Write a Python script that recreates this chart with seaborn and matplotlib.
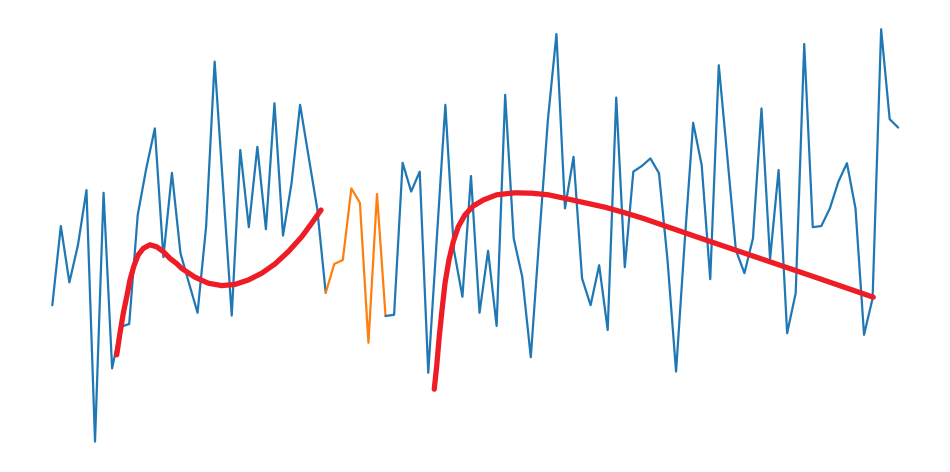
"""Noisy series with a highlighted stretch and two fitted trend curves."""

import matplotlib
import numpy as np
import pandas as pd
import seaborn as sns

matplotlib.use("Agg")
import matplotlib.pyplot as plt  # noqa: E402

sns.set_theme(style="white")

BLUE, ORANGE, RED = "#1f77b4", "#ff7f0e", "#ee1c25"

# raw series, one value per step (100 steps)
values = [
    3.62, 5.60, 4.19, 5.12, 6.50, 0.21, 6.43, 2.04, 3.08, 3.15,
    5.88, 7.04, 8.04, 4.82, 6.93, 4.92, 4.17, 3.43, 5.58, 9.71,
    6.53, 3.36, 7.50, 5.57, 7.58, 5.52, 8.67, 5.36, 6.67, 8.63,
    7.33, 6.04, 3.93, 4.65, 4.75, 6.54, 6.18, 2.68, 6.40, 3.35,
    3.38, 7.18, 6.46, 6.96, 1.93, 5.29, 8.63, 5.00, 3.83, 6.85,
    3.43, 4.98, 3.10, 8.88, 5.29, 4.33, 2.32, 5.33, 8.25, 10.40,
    6.04, 7.33, 4.29, 3.62, 4.62, 3.00, 8.81, 4.57, 6.96, 7.10,
    7.29, 6.92, 4.75, 1.96, 5.17, 8.18, 7.12, 4.27, 9.62, 7.33,
    5.00, 4.42, 5.29, 8.54, 4.77, 7.00, 2.92, 3.92, 10.15, 5.57,
    5.60, 6.04, 6.71, 7.17, 6.04, 2.88, 3.79, 10.52, 8.27, 8.06,
]
steps = list(range(len(values)))

# highlighted stretch (inclusive step range)
hl_start, hl_end = 32, 39

# first trend curve
fit1_x = [7.54, 7.92, 8.31, 8.71, 9.09, 9.55, 10.06, 10.65, 11.43, 12.22,
          12.99, 13.77, 14.56, 15.14, 16.70, 18.26, 19.82, 21.38, 22.94,
          24.51, 26.06, 27.62, 29.19, 30.36, 31.45]
fit1_y = [2.38, 2.92, 3.42, 3.83, 4.25, 4.60, 4.88, 5.04, 5.13, 5.08,
          4.96, 4.79, 4.66, 4.54, 4.32, 4.17, 4.11, 4.14, 4.25,
          4.42, 4.65, 4.96, 5.33, 5.67, 6.00]

# second trend curve
fit2_x = [44.70, 44.98, 45.25, 45.57, 45.96, 46.42, 46.93, 47.51, 48.30,
          49.27, 50.44, 52.01, 54.15, 56.10, 58.05, 60.00, 62.34, 64.68,
          67.02, 69.16, 75.80, 82.82, 89.84, 96.08]
fit2_y = [1.52, 2.08, 2.75, 3.42, 4.17, 4.75, 5.21, 5.58, 5.88,
          6.10, 6.25, 6.38, 6.43, 6.42, 6.38, 6.29, 6.18, 6.07,
          5.93, 5.79, 5.30, 4.79, 4.28, 3.82]

df = pd.DataFrame({"step": steps, "value": values})
before = df[df["step"] <= hl_start]
middle = df[(df["step"] >= hl_start) & (df["step"] <= hl_end)]
after = df[df["step"] >= hl_end]

fig = plt.figure(figsize=(9.5, 4.72), dpi=100)
ax = fig.add_axes([0, 0, 1, 1])

for part, col in [(before, BLUE), (middle, ORANGE), (after, BLUE)]:
    sns.lineplot(data=part, x="step", y="value", color=col, linewidth=1.6, ax=ax)

for fx, fy in [(fit1_x, fit1_y), (fit2_x, fit2_y)]:
    sns.lineplot(x=fx, y=fy, color=RED, linewidth=3.8, sort=False,
                 solid_capstyle="round", solid_joinstyle="round", ax=ax)

ax.set_xlim(-6.12, 105.06)
ax.set_ylim(-0.55, 11.25)
ax.axis("off")

fig.savefig("out.png", dpi=100)
plt.close(fig)
